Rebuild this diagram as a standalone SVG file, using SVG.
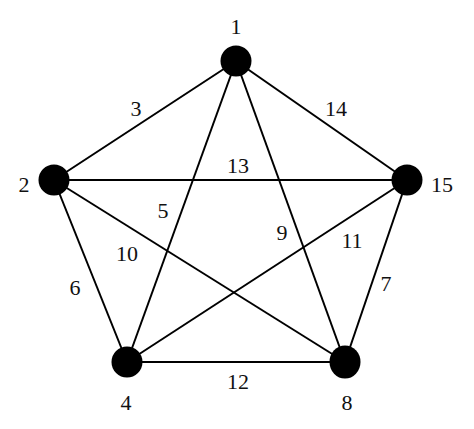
<svg xmlns="http://www.w3.org/2000/svg" width="474" height="429" viewBox="0 0 474 429">
<style>
.e{stroke:#000;stroke-width:2;fill:none}
.n{fill:#000}
text{font-family:"Liberation Serif","DejaVu Serif",serif;font-size:22px;fill:#111;text-anchor:middle}
</style>
<rect width="474" height="429" fill="#fff"/>
<g id="edges">
<line class="e" x1="236" y1="61" x2="54" y2="180"/>
<line class="e" x1="236" y1="61" x2="407" y2="180"/>
<line class="e" x1="236" y1="61" x2="127" y2="362"/>
<line class="e" x1="236" y1="61" x2="345" y2="362"/>
<line class="e" x1="54" y1="180" x2="407" y2="180"/>
<line class="e" x1="54" y1="180" x2="127" y2="362"/>
<line class="e" x1="54" y1="180" x2="345" y2="362"/>
<line class="e" x1="407" y1="180" x2="127" y2="362"/>
<line class="e" x1="407" y1="180" x2="345" y2="362"/>
<line class="e" x1="127" y1="362" x2="345" y2="362"/>
</g>
<g id="edge-labels">
<text x="136" y="116">3</text>
<text x="336" y="116">14</text>
<text x="238" y="173">13</text>
<text x="163" y="218">5</text>
<text x="282" y="240">9</text>
<text x="352" y="248">11</text>
<text x="127" y="261">10</text>
<text x="75" y="295">6</text>
<text x="386" y="291">7</text>
<text x="238" y="389">12</text>
</g>
<g id="node-1"><circle class="n" cx="236" cy="61" r="15.5"/><text x="236" y="34">1</text></g>
<g id="node-2"><circle class="n" cx="54" cy="180" r="15.5"/><text x="24" y="192">2</text></g>
<g id="node-15"><circle class="n" cx="407" cy="180" r="15.5"/><text x="442" y="192">15</text></g>
<g id="node-4"><circle class="n" cx="127" cy="362" r="15.5"/><text x="126" y="410">4</text></g>
<g id="node-8"><ellipse class="n" cx="345" cy="362" rx="15.5" ry="16.5"/><text x="347" y="410">8</text></g>
</svg>
